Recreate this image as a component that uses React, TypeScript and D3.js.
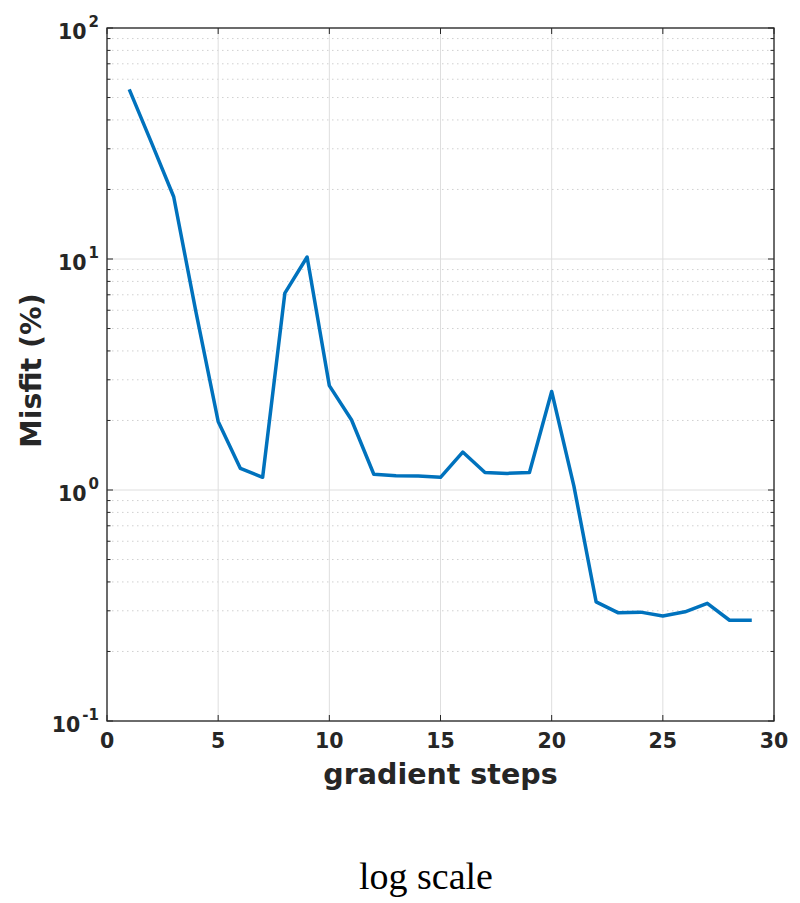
import * as d3 from 'd3'

const STEPS = [1, 2, 3, 4, 5, 6, 7, 8, 9, 10, 11, 12, 13, 14, 15, 16, 17, 18, 19, 20, 21, 22, 23, 24, 25, 26, 27, 28, 29]
const MISFIT = [
  54.2, 31.9, 18.6, 5.9, 1.98, 1.24, 1.135, 7.12, 10.2, 2.83, 2.01, 1.17, 1.153, 1.15, 1.135, 1.46, 1.19, 1.18,
  1.19, 2.67, 1.04, 0.328, 0.294, 0.296, 0.285, 0.297, 0.323, 0.273, 0.273,
]
const X_TICKS = [0, 5, 10, 15, 20, 25, 30]
const Y_DECADES = [-1, 0, 1, 2]

const W = 800
const H = 903
const M = {top: 28, right: 26, bottom: 182, left: 107}

const AXIS = '#262626'
const GRID = '#dedede'
const FONT = "'DejaVu Sans', sans-serif"

export default function App() {
  const iw = W - M.left - M.right
  const ih = H - M.top - M.bottom

  const x = d3.scaleLinear().domain([0, 30]).range([0, iw])
  const y = d3.scaleLog().domain([0.1, 100]).range([ih, 0])

  const minor: number[] = []
  Y_DECADES.slice(0, -1).forEach(e => {
    for (let k = 2; k <= 9; k++) minor.push(k * Math.pow(10, e))
  })

  const line = d3
    .line<number>()
    .x((_, i) => x(STEPS[i]))
    .y(d => y(d))

  return (
    <svg
      width={W}
      height={H}
      style={{position: 'absolute', left: 0, top: 0, background: '#fff'}}
      fontFamily={FONT}>
      <g transform={`translate(${M.left},${M.top})`}>
        {/* grid */}
        {minor.map(v => (
          <line key={'mg' + v} x1={0} x2={iw} y1={y(v)} y2={y(v)} stroke="#d0d0d0" strokeWidth={1} strokeDasharray="1.5,3.5" />
        ))}
        {Y_DECADES.map(e => (
          <line key={'yg' + e} x1={0} x2={iw} y1={y(Math.pow(10, e))} y2={y(Math.pow(10, e))} stroke={GRID} strokeWidth={1} />
        ))}
        {X_TICKS.map(t => (
          <line key={'xg' + t} x1={x(t)} x2={x(t)} y1={0} y2={ih} stroke={GRID} strokeWidth={1} />
        ))}

        {/* data */}
        <path d={line(MISFIT) || ''} fill="none" stroke="#0072BD" strokeWidth={3.5} strokeLinejoin="round" />

        {/* ticks */}
        {X_TICKS.map(t => (
          <g key={'xt' + t}>
            <line x1={x(t)} x2={x(t)} y1={ih} y2={ih - 6} stroke={AXIS} strokeWidth={1} />
            <line x1={x(t)} x2={x(t)} y1={0} y2={6} stroke={AXIS} strokeWidth={1} />
            <text x={x(t)} y={ih + 27} textAnchor="middle" fontSize={20.5} fontWeight="bold" fill={AXIS}>
              {t}
            </text>
          </g>
        ))}
        {minor.map(v => (
          <g key={'mt' + v}>
            <line x1={0} x2={3.5} y1={y(v)} y2={y(v)} stroke={AXIS} strokeWidth={1} />
            <line x1={iw} x2={iw - 3.5} y1={y(v)} y2={y(v)} stroke={AXIS} strokeWidth={1} />
          </g>
        ))}
        {Y_DECADES.map(e => (
          <g key={'yt' + e} transform={`translate(0,${y(Math.pow(10, e))})`}>
            <line x1={0} x2={6} stroke={AXIS} strokeWidth={1} />
            <line x1={iw} x2={iw - 6} stroke={AXIS} strokeWidth={1} />
            <text x={-8} y={11} textAnchor="end" fontWeight="bold" fill={AXIS}>
              <tspan fontSize={20.5}>10</tspan>
              <tspan fontSize={15} dx={2} dy={-12}>
                {e}
              </tspan>
            </text>
          </g>
        ))}

        {/* box */}
        <rect x={0} y={0} width={iw} height={ih} fill="none" stroke={AXIS} strokeWidth={1.3} />

        {/* labels */}
        <text x={iw / 2} y={ih + 63} textAnchor="middle" fontSize={28.5} fontWeight="bold" fill={AXIS}>
          gradient steps
        </text>
        <text
          transform={`translate(${-66},${ih / 2 - 4}) rotate(-90)`}
          textAnchor="middle"
          fontSize={28.5}
          fontWeight="bold"
          fill={AXIS}>
          Misfit (%)
        </text>
      </g>
      <text x={426} y={889} textAnchor="middle" fontSize={38} fontFamily="'Liberation Serif', serif" fill="#000">
        log scale
      </text>
    </svg>
  )
}
